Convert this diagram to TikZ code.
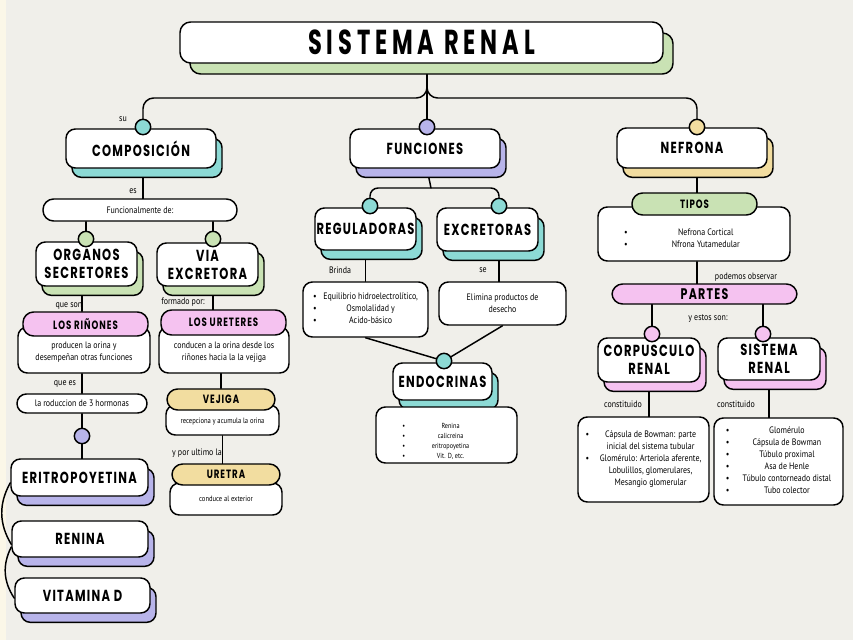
\documentclass[tikz,border=0pt]{standalone}
\usepackage{fontspec}
\setmainfont{PT Sans}
\newfontfamily\bodyfont{PT Sans}[FakeStretch=0.85]
\newfontfamily\headfont{Poppins}[FakeStretch=0.72,LetterSpace=8]
\newfontfamily\titlefont{Poppins}[FakeStretch=0.65,LetterSpace=14]
\usetikzlibrary{shadows}

\definecolor{paper}{HTML}{F0EFEA}
\definecolor{cream}{HTML}{FBF7E8}
\definecolor{cyanish}{HTML}{8CDAD5}
\definecolor{lavender}{HTML}{B8B4EA}
\definecolor{sand}{HTML}{F2DDA0}
\definecolor{greenish}{HTML}{C9E2B4}
\definecolor{pinkish}{HTML}{F5C2F0}

\pgfdeclarelayer{paper}
\pgfdeclarelayer{wires}
\pgfsetlayers{paper,wires,main}

% move the text of a card down without changing its size
\newcommand\dropby[2]{\raisebox{-#1}[\height][\depth]{#2}}

\begin{document}
\begin{tikzpicture}[x=0.75pt,y=-0.75pt]
\tikzset{
  wire/.style={draw=black,line width=1.1pt,line cap=round,line join=round},
  wh/.style 2 args={minimum width=#1*0.75pt,minimum height=#2*0.75pt},
  card/.style={draw=black,fill=white,line width=1.1pt,rounded corners=7pt,inner sep=0pt,align=center},
  headcard/.style={card,font=\headfont\bfseries\fontsize{12}{13.5}\selectfont},
  pillhead/.style={card,rounded corners=8pt,font=\headfont\bfseries\fontsize{9}{10}\selectfont},
  textcard/.style={card,font=\bodyfont\fontsize{7}{9}\selectfont},
  lift/.style={general shadow={shadow xshift=4.5pt,shadow yshift=-7pt,fill=#1,draw=black,line width=1.1pt}},
  knob/.style={circle,draw=black,line width=1.1pt,fill=#1,minimum size=11.5pt,inner sep=0pt},
  note/.style={font=\bodyfont\fontsize{7}{8}\selectfont,inner sep=0pt}
}
\useasboundingbox (0,0) rectangle (853,640);
\begin{pgfonlayer}{paper}
\fill[paper] (0,0) rectangle (853,640);
\fill[cream] (0,0) rectangle (6,640);
\end{pgfonlayer}

% title and main branches
\node[card,wh={483}{41},rounded corners=8pt,font=\titlefont\bfseries\fontsize{26}{28}\selectfont,
  general shadow={shadow xshift=7.5pt,shadow yshift=-8.25pt,fill=greenish,draw=black,line width=1.1pt}] (ttl) at (421.5,42.5) {SISTEMA RENAL};
\node[headcard,wh={150}{39},lift=cyanish] (comp) at (141,148.5) {COMPOSICIÓN};
\node[headcard,wh={150}{39},lift=lavender] (func) at (425,148.5) {FUNCIONES};
\node[headcard,wh={150}{40},lift=sand] (nefr) at (692,148) {NEFRONA};

% composicion
\node[textcard,wh={194}{22},rounded corners=8pt] (funde) at (140,210) {Funcionalmente de:};
\node[headcard,wh={101}{44},lift=greenish] (org) at (86.5,264) {ORGANOS\\SECRETORES};
\node[headcard,wh={101}{43},lift=greenish] (via) at (207.5,264.5) {VIA\\EXCRETORA};
\node[textcard,wh={132}{46}] (rinc) at (84,350) {\dropby{1.5pt}{\begin{tabular}{@{}c@{}}producen la orina y\\desempeñan otras funciones\end{tabular}}};
\node[pillhead,wh={125}{24},fill=pinkish] (rinh) at (85.5,324) {LOS RIÑONES};
\node[textcard,wh={130}{19},rounded corners=7pt] (rod) at (82,403.5) {la roduccion de 3 hormonas};
\node[headcard,wh={137}{37},lift=lavender] (eri) at (79.5,477.5) {ERITROPOYETINA};
\node[headcard,wh={136}{36},lift=lavender] (ren) at (80,539) {RENINA};
\node[headcard,wh={135}{35},lift=lavender] (vit) at (82.5,595.5) {VITAMINA D};
\node[textcard,wh={130}{46}] (urec) at (224,350) {\dropby{1.5pt}{\begin{tabular}{@{}c@{}}conducen a la orina desde los\\riñones hacia la la vejiga\end{tabular}}};
\node[pillhead,wh={125}{25},fill=pinkish] (ureh) at (223.5,322.5) {LOS URETERES};
\node[textcard,wh={113}{30},font=\bodyfont\fontsize{5.8}{7}\selectfont] (vejc) at (222.5,420) {\dropby{1pt}{recepciona y acumula la orina}};
\node[pillhead,wh={108}{21},fill=sand] (vejh) at (221,399.5) {VEJIGA};
\node[textcard,wh={112}{32},font=\bodyfont\fontsize{5.8}{7}\selectfont] (uretc) at (226,499) {conduce al exterior};
\node[pillhead,wh={108}{21},fill=sand] (ureth) at (226,474.5) {URETRA};

% funciones
\node[headcard,wh={101}{42},lift=cyanish] (reg) at (365.5,229) {REGULADORAS};
\node[headcard,wh={101}{43},lift=cyanish] (exc) at (487.5,229.5) {EXCRETORAS};
\node[textcard,wh={125}{55}] (regc) at (365.5,309.5) {\begin{tabular}{@{}c@{\hspace{5pt}}c@{}}
  \textbullet & Equilibrio hidroelectrolítico,\\
  \textbullet & Osmolalidad y\\
  \textbullet & Acido-básico\end{tabular}};
\node[textcard,wh={127}{43}] (excc) at (502.5,303.5) {Elimina productos de\\desecho};
\node[headcard,wh={99}{37},lift=cyanish] (endo) at (442.5,381.5) {ENDOCRINAS};
\node[textcard,wh={141}{56},font=\bodyfont\fontsize{5.5}{7.5}\selectfont] (endc) at (446.5,435) {\dropby{5pt}{\begin{tabular}{@{}c@{\hspace{20pt}}c@{\hspace{16pt}}}
  \textbullet & Renina\\
  \textbullet & calicreina\\
  \textbullet & eritropoyetina\\
  \textbullet & Vit. D, etc.\end{tabular}}};

% nefrona
\node[textcard,wh={192}{54}] (tipc) at (694,234) {\dropby{3.5pt}{\begin{tabular}{@{}c@{\hspace{33pt}}c@{\hspace{18pt}}}
  \textbullet & Nefrona Cortical\\
  \textbullet & Nfrona Yutamedular\end{tabular}}};
\node[pillhead,wh={125}{22},fill=greenish] (tiph) at (694.5,204) {TIPOS};
\node[pillhead,wh={185}{20},fill=pinkish,font=\headfont\bfseries\fontsize{11.5}{13}\selectfont] (parts) at (704.5,294) {PARTES};
\node[headcard,wh={102}{44},lift=pinkish] (corp) at (649,360) {CORPUSCULO\\RENAL};
\node[headcard,wh={102}{42},lift=pinkish] (sis) at (769,359) {SISTEMA\\RENAL};
\node[textcard,wh={131}{85}] (corpc) at (643.5,459.5) {\begin{tabular}{@{}c@{\hspace{8pt}}c@{}}
  \textbullet & Cápsula de Bowman: parte\\
  & inicial del sistema tubular\\
  \textbullet & Glomérulo: Arteriola aferente,\\
  & Lobulillos, glomerulares,\\
  & Mesangio glomerular\end{tabular}};
\node[textcard,wh={129}{87}] (sisc) at (778.5,461.5) {\begin{tabular}{@{}c@{\hspace{10pt}}c@{}}
  \textbullet & Glomérulo\\
  \textbullet & Cápsula de Bowman\\
  \textbullet & Túbulo proximal\\
  \textbullet & Asa de Henle\\
  \textbullet & Túbulo contorneado distal\\
  \textbullet & Tubo colector\end{tabular}};

% knobs
\node[knob=cyanish] (c-comp) at (143,127) {};
\node[knob=lavender] (c-func) at (427,127) {};
\node[knob=sand] (c-nefr) at (697,127) {};
\node[knob=greenish] (c-org) at (86,239) {};
\node[knob=greenish] (c-via) at (213,239) {};
\node[knob=lavender] (c-eri) at (82,436) {};
\node[knob=cyanish] (c-reg) at (370,206) {};
\node[knob=cyanish] (c-exc) at (499,206) {};
\node[knob=cyanish] (c-endo) at (444,361) {};
\node[knob=pinkish] (c-corp) at (652,334) {};
\node[knob=pinkish] (c-sis) at (763,334) {};

% small labels on the lines
\node[note] (l-su) at (123,119) {su};
\node[note] (l-es) at (133,191) {es};
\node[note] (l-queson) at (69,306) {que son};
\node[note] (l-quees) at (65,384) {que es};
\node[note] (l-formado) at (183,302) {formado por:};
\node[note] (l-ultimo) at (197,453) {y por ultimo la};
\node[note] (l-brinda) at (340,270) {Brinda};
\node[note] (l-se) at (483,270) {se};
\node[note] (l-podemos) at (746,277) {podemos observar};
\node[note] (l-estos) at (708,319) {y estos son:};
\node[note] (l-const1) at (623,404) {constituido};
\node[note] (l-const2) at (736,404) {constituido};

\coordinate (hub) at (427,98);
\coordinate (fork) at (431,188);
\begin{pgfonlayer}{wires}
\draw[wire,rounded corners=8pt] (ttl.south -| c-func) |- (hub -| c-comp) -- (c-comp);
\draw[wire,rounded corners=8pt] (ttl.south -| c-func) |- (hub -| c-nefr) -- (c-nefr);
\draw[wire] (ttl.south -| c-func) -- (c-func);
\draw[wire] (c-comp) -- (c-comp |- funde);
\draw[wire] (funde.south -| c-org) -- (c-org);
\draw[wire] (funde.south -| c-via) -- (c-via);
\draw[wire] (org.south -| rod) -- (rinh.north -| rod);
\draw[wire] (rinc.south -| rod) -- (rod);
\draw[wire] (rod) -- (c-eri);
\draw[wire] (c-eri) -- (c-eri |- eri);
\draw[wire] ([yshift=-4pt]eri.west) to[bend right=30] ([yshift=-4pt]ren.west);
\draw[wire] ([yshift=-6pt]ren.west) to[bend right=30] ([yshift=-2pt]vit.west);
\draw[wire] (c-via) -- (c-via |- ureh);
\draw[wire] (vejh |- urec) -- (vejh);
\draw[wire] (vejc) -- (vejc |- ureth);
\draw[wire] (func.south -| c-func) -- (fork);
\draw[wire,rounded corners=6pt] (c-reg) |- (fork) -| (c-exc);
\draw[wire] (reg) -- (regc);
\draw[wire] (c-exc) -- (c-exc |- excc);
\draw[wire] (regc.south) -- (c-endo);
\draw[wire] (excc.south) -- (c-endo);
\draw[wire] (c-nefr) -- (c-nefr |- tiph);
\draw[wire] (tipc.south -| c-nefr) -- (c-nefr |- parts);
\draw[wire] (c-corp |- parts) -- (c-corp);
\draw[wire] (c-sis |- parts) -- (c-sis);
\draw[wire] (corp) -- (corp |- corpc);
\draw[wire] (sis) -- (sis |- sisc);
\end{pgfonlayer}
\end{tikzpicture}
\end{document}
